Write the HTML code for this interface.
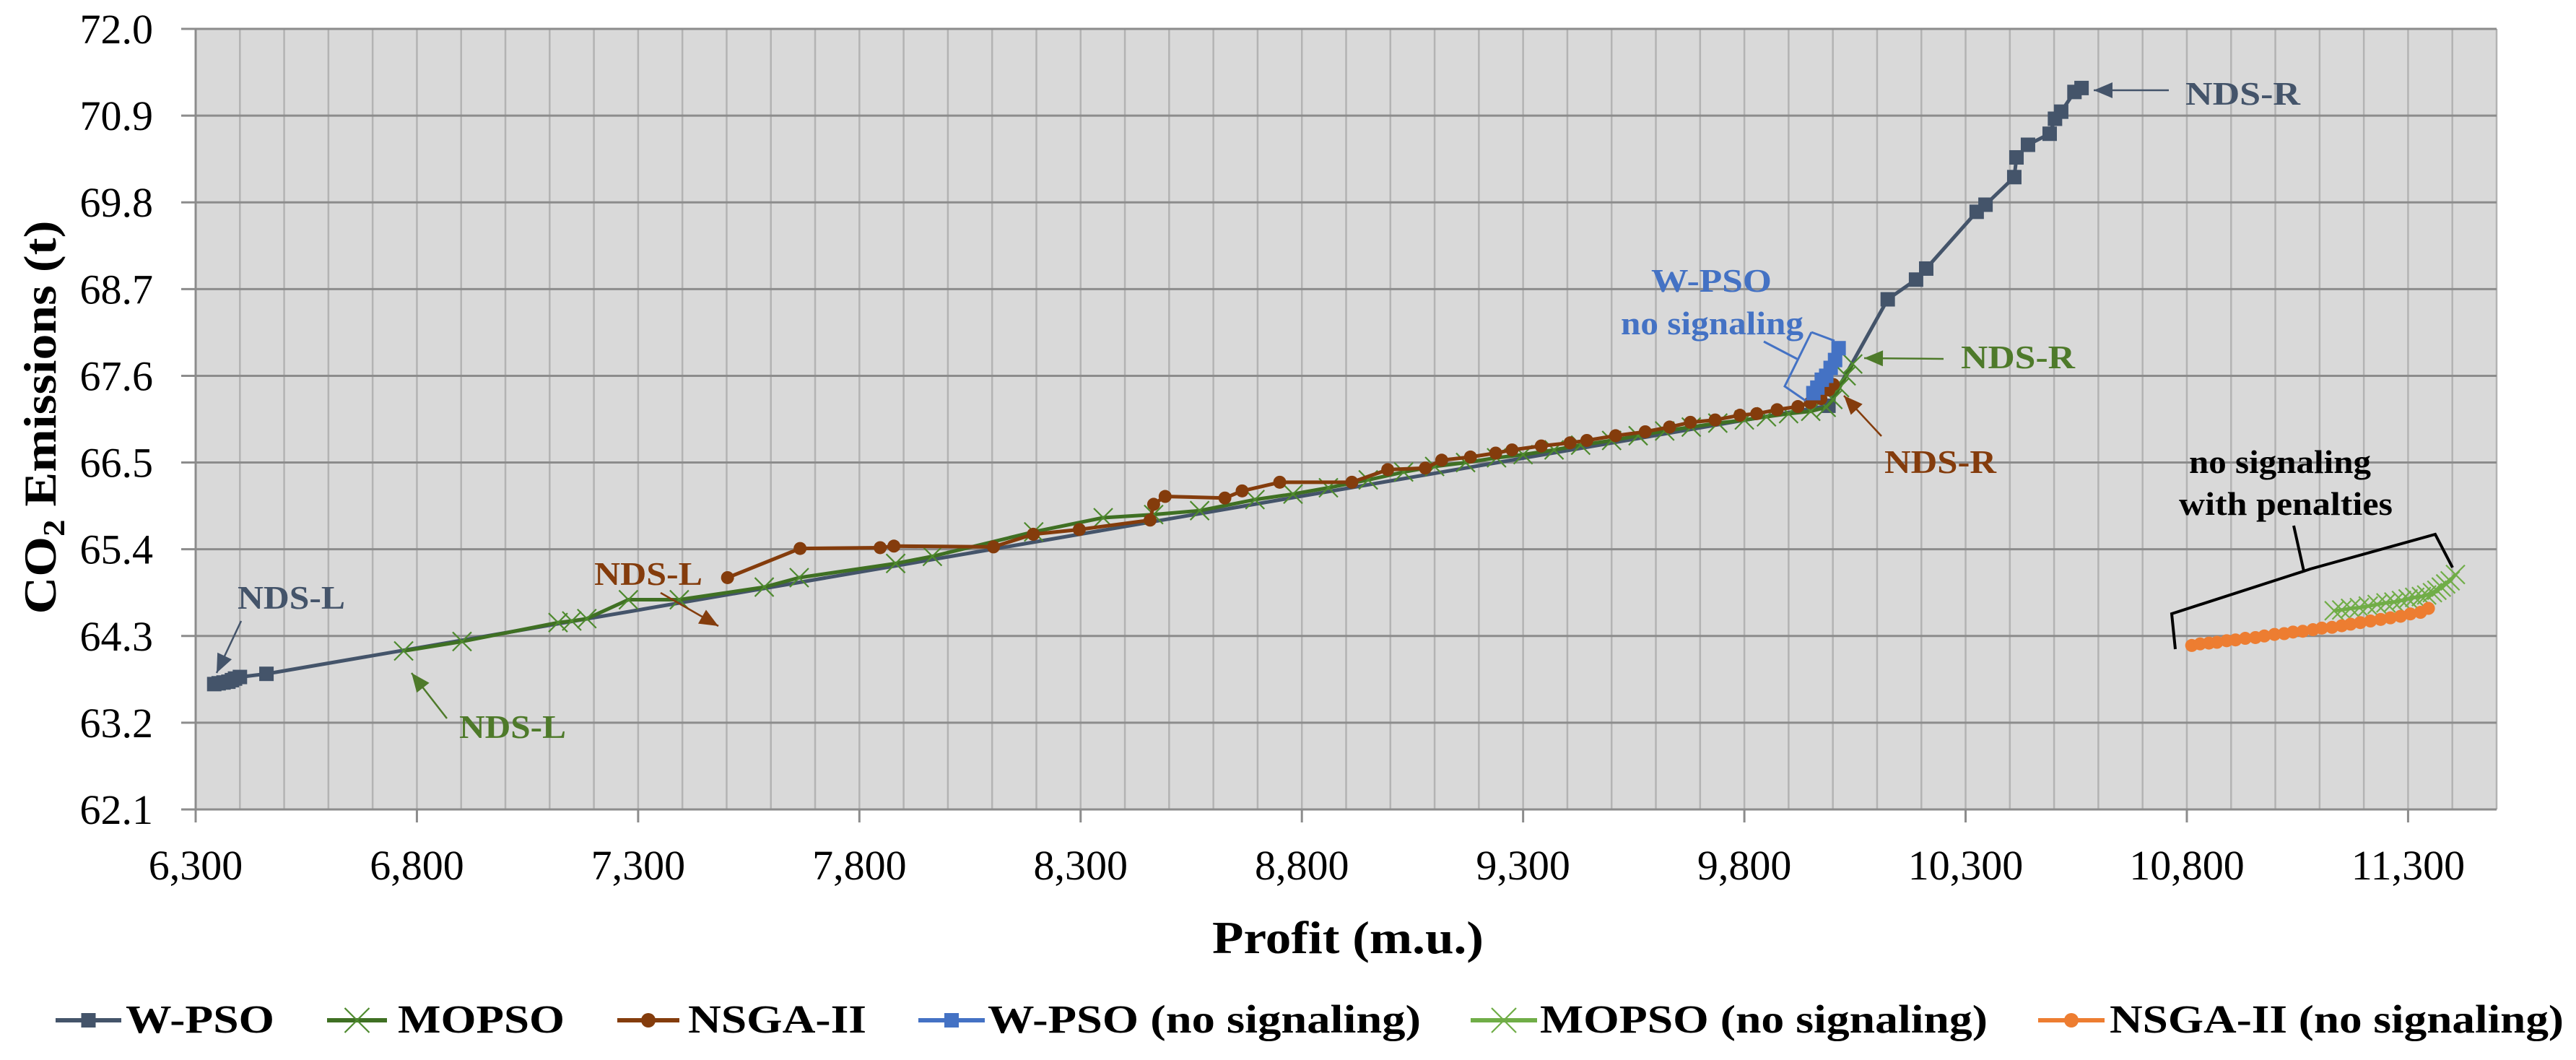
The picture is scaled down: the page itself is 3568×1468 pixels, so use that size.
<!DOCTYPE html>
<html><head><meta charset="utf-8"><style>
html,body{margin:0;padding:0;background:#fff}
svg{display:block}
svg, svg text{font-family:"Liberation Serif","Times New Roman",serif}
</style></head><body>
<svg id="chart" width="3568" height="1468" viewBox="0 0 3568 1468" xmlns="http://www.w3.org/2000/svg" font-family="'Liberation Serif', serif">
<rect x="0" y="0" width="3568" height="1468" fill="#fff"/>
<g id="plot"></g>
<g id="axes"></g>
<g id="series"></g>
<g id="annot"></g>
<g id="legend"></g>
</svg>
<script>
// ---- data ----
const xTicks = [6300, 6800, 7300, 7800, 8300, 8800, 9300, 9800, 10300, 10800, 11300];
const xTickLabels = ["6,300","6,800","7,300","7,800","8,300","8,800","9,300","9,800","10,300","10,800","11,300"];
const yTicks = [62.1, 63.2, 64.3, 65.4, 66.5, 67.6, 68.7, 69.8, 70.9, 72.0];
const yTickLabels = ["62.1","63.2","64.3","65.4","66.5","67.6","68.7","69.8","70.9","72.0"];

const wpsoX = [6342, 6352, 6363, 6374, 6382, 6389, 6400, 6460, 9990, 10124, 10188, 10211, 10325, 10345, 10410, 10415, 10441, 10490, 10502, 10516, 10546, 10562];
const wpsoY = [63.69, 63.70, 63.71, 63.72, 63.74, 63.76, 63.78, 63.82, 67.22, 68.57, 68.82, 68.96, 69.68, 69.77, 70.12, 70.37, 70.53, 70.67, 70.86, 70.95, 71.20, 71.25];

const mopsoX = [6770, 6902, 7119, 7150, 7184, 7278, 7393, 7585, 7664, 7882, 7965, 8194, 8351, 8465, 8569, 8694, 8780, 8860, 8950, 9030, 9100, 9170, 9240, 9300, 9370, 9430, 9500, 9560, 9620, 9680, 9740, 9800, 9850, 9900, 9950, 9985, 10000, 10015, 10030, 10045];
const mopsoY = [64.11, 64.23, 64.47, 64.49, 64.52, 64.76, 64.76, 64.92, 65.04, 65.22, 65.31, 65.62, 65.80, 65.84, 65.89, 66.03, 66.10, 66.18, 66.28, 66.38, 66.45, 66.50, 66.56, 66.60, 66.66, 66.72, 66.78, 66.84, 66.90, 66.95, 67.00, 67.04, 67.08, 67.12, 67.15, 67.20, 67.30, 67.45, 67.60, 67.75];

const nsgaX = [7502, 7666, 7847, 7878, 8103, 8193, 8297, 8457, 8465, 8491, 8626, 8665, 8750, 8913, 8994, 9079, 9116, 9181, 9238, 9275, 9341, 9406, 9444, 9509, 9576, 9631, 9678, 9734, 9790, 9828, 9874, 9921, 9949, 9973, 9991, 10001];
const nsgaY = [65.04, 65.41, 65.42, 65.44, 65.43, 65.59, 65.65, 65.77, 65.97, 66.07, 66.05, 66.14, 66.25, 66.25, 66.41, 66.43, 66.53, 66.57, 66.62, 66.66, 66.71, 66.75, 66.78, 66.84, 66.89, 66.95, 67.01, 67.04, 67.10, 67.12, 67.17, 67.21, 67.26, 67.31, 67.42, 67.49];

const wpsoNsX = [9956, 9965, 9975, 9985, 9995, 10005, 10013];
const wpsoNsY = [67.38, 67.45, 67.55, 67.60, 67.70, 67.80, 67.95];

const mopsoNsX = [11133, 11150, 11170, 11190, 11210, 11230, 11250, 11268, 11285, 11300, 11315, 11330, 11342, 11355, 11365, 11375, 11385, 11395, 11407];
const mopsoNsY = [64.62, 64.63, 64.65, 64.66, 64.68, 64.70, 64.72, 64.73, 64.75, 64.77, 64.79, 64.80, 64.82, 64.85, 64.88, 64.92, 64.96, 65.00, 65.08];

const nsgaNsX = [10811, 10830, 10850, 10868, 10890, 10910, 10932, 10955, 10975, 10998, 11020, 11040, 11062, 11085, 11105, 11128, 11150, 11170, 11192, 11215, 11238, 11260, 11283, 11305, 11328, 11346];
const nsgaNsY = [64.18, 64.20, 64.21, 64.22, 64.24, 64.25, 64.27, 64.28, 64.30, 64.32, 64.33, 64.35, 64.36, 64.38, 64.40, 64.41, 64.43, 64.45, 64.47, 64.49, 64.51, 64.53, 64.55, 64.58, 64.60, 64.65];

// ---- scales ----
const L = 271, R = 3458, T = 40, B = 1121;
const X0 = 6300, X1 = 11500, Y0 = 62.1, Y1 = 72.0;
function sx(v){ return L + (v - X0) / (X1 - X0) * (R - L); }
function sy(v){ return B - (v - Y0) / (Y1 - Y0) * (B - T); }

const NS = "http://www.w3.org/2000/svg";
const FONT = "'Liberation Serif', 'Times New Roman', serif";
function mk(tag, attrs, parent){
  const e = document.createElementNS(NS, tag);
  for (const k in attrs) e.setAttribute(k, attrs[k]);
  if (tag === 'text') e.setAttribute('font-family', FONT);
  parent.appendChild(e);
  return e;
}
const plot = document.getElementById('plot');
const axes = document.getElementById('axes');
const series = document.getElementById('series');
const annot = document.getElementById('annot');
const legend = document.getElementById('legend');

const bg = mk('rect', {x:L, y:T, width:R-L, height:B-T, fill:'#D9D9D9'}, plot);



for (let v = X0 + 100; v < X1 + 1; v += 100) {
  const g = mk('line', {x1:sx(v), x2:sx(v), y1:T, y2:B, stroke:'#B3B3B3', 'stroke-width':2.5}, plot);
  
  
}
yTicks.forEach(function(v){
  const g = mk('line', {x1:L, x2:R, y1:sy(v), y2:sy(v), stroke:'#8C8C8C', 'stroke-width':3}, plot);
  
  
});

const yAxis = mk('line', {x1:L, x2:L, y1:T, y2:B+18, stroke:'#8C8C8C', 'stroke-width':3}, axes);


yTicks.forEach(function(v, i){
  const tk = mk('line', {x1:L-20, x2:L, y1:sy(v), y2:sy(v), stroke:'#8C8C8C', 'stroke-width':3}, axes);
  
  
  const t = mk('text', {x:212, y:sy(v)+20, 'font-size':58, 'text-anchor':'end', fill:'#000'}, axes);
  t.textContent = yTickLabels[i];
  
  
});
xTicks.forEach(function(v, i){
  const tk = mk('line', {x1:sx(v), x2:sx(v), y1:B, y2:B+18, stroke:'#8C8C8C', 'stroke-width':3}, axes);
  
  
  const t = mk('text', {x:sx(v), y:1218, 'font-size':58, 'text-anchor':'middle', fill:'#000'}, axes);
  t.textContent = xTickLabels[i];
  
  
});

const xt = mk('text', {x:1867, y:1320, 'font-size':64, 'font-weight':'bold', 'text-anchor':'middle', fill:'#000', textLength:376, lengthAdjust:'spacingAndGlyphs'}, axes);
xt.textContent = 'Profit (m.u.)';


const yt = mk('text', {x:0, y:0, 'font-size':64, 'font-weight':'bold', 'text-anchor':'middle', fill:'#000', transform:'translate(77,578) rotate(-90)', textLength:545, lengthAdjust:'spacingAndGlyphs'}, axes);


yt.innerHTML = 'CO<tspan font-size="42" dy="12">2</tspan><tspan dy="-12"> Emissions (t)</tspan>';

function drawMarker(g, kind, cx, cy, color, size){
  let m;
  if (kind === 'square') {
    m = mk('rect', {x:cx-size/2, y:cy-size/2, width:size, height:size, fill:color}, g);
  } else if (kind === 'circle') {
    m = mk('circle', {cx:cx, cy:cy, r:size/2, fill:color}, g);
  } else {
    const h = size/2;
    m = mk('path', {d:'M'+(cx-h)+' '+(cy-h)+'L'+(cx+h)+' '+(cy+h)+'M'+(cx-h)+' '+(cy+h)+'L'+(cx+h)+' '+(cy-h), stroke:color, 'stroke-width':2.2, fill:'none'}, g);
  }
  return m;
}
function drawSeries(name, xs, ys, color, kind, size, lw, markerColor){
  const g = mk('g', {}, series);
  
  
  let d = '';
  for (let i = 0; i < xs.length; i++) d += (i ? 'L' : 'M') + sx(xs[i]).toFixed(1) + ' ' + sy(ys[i]).toFixed(1);
  const p = mk('path', {d:d, stroke:color, 'stroke-width':lw, fill:'none', 'stroke-linejoin':'round'}, g);
  
  
  for (let i = 0; i < xs.length; i++) {
    const m = drawMarker(g, kind, sx(xs[i]), sy(ys[i]), markerColor || color, size);
    
    
  }
}
drawSeries('wpso-series', wpsoX, wpsoY, '#44546A', 'square', 20, 5);
drawSeries('mopso-series', mopsoX, mopsoY, '#3F7023', 'x', 26, 5, '#4E8A2E');
drawSeries('nsga2-series', nsgaX, nsgaY, '#843C0C', 'circle', 18, 5);
drawSeries('wpso-no-signaling-series', wpsoNsX, wpsoNsY, '#4472C4', 'square', 20, 5);
drawSeries('mopso-no-signaling-series', mopsoNsX, mopsoNsY, '#70AD47', 'x', 26, 5);
drawSeries('nsga2-no-signaling-series', nsgaNsX, nsgaNsY, '#ED7D31', 'circle', 18, 5);

function label(name, txt, x, y, color, w){
  const t = mk('text', {x:x, y:y, 'font-size':46, 'font-weight':'bold', fill:color, textLength:w, lengthAdjust:'spacingAndGlyphs'}, annot);
  t.textContent = txt;
  
  
}
function arrow(name, x1, y1, x2, y2, color){
  const g = mk('g', {}, annot);
  
  
  mk('line', {x1:x1, y1:y1, x2:x2, y2:y2, stroke:color, 'stroke-width':2.5}, g);
  const a = Math.atan2(y2-y1, x2-x1), l = 26, w = 11;
  const bx = x2 - l*Math.cos(a), by = y2 - l*Math.sin(a);
  const px = -Math.sin(a)*w, py = Math.cos(a)*w;
  mk('path', {d:'M'+x2+' '+y2+'L'+(bx+px)+' '+(by+py)+'L'+(bx-px)+' '+(by-py)+'Z', fill:color}, g);
}
label('wpso-nds-l-label', 'NDS-L', 329, 843, '#44546A', 149);
arrow('wpso-nds-l-arrow', 334, 860, 300, 932, '#44546A');
label('mopso-nds-l-label', 'NDS-L', 636, 1022, '#4E7A2A', 148);
arrow('mopso-nds-l-arrow', 619, 995, 570, 932, '#4E7A2A');
label('nsga2-nds-l-label', 'NDS-L', 823, 810, '#843C0C', 150);
arrow('nsga2-nds-l-arrow', 915, 821, 995, 867, '#843C0C');
label('wpso-nds-r-label', 'NDS-R', 3027, 145, '#44546A', 159);
arrow('wpso-nds-r-arrow', 3004, 125, 2900, 125, '#44546A');
label('mopso-nds-r-label', 'NDS-R', 2716, 510, '#4E7A2A', 158);
arrow('mopso-nds-r-arrow', 2692, 497, 2582, 496, '#4E7A2A');
label('nsga2-nds-r-label', 'NDS-R', 2610, 655, '#843C0C', 155);
arrow('nsga2-nds-r-arrow', 2606, 604, 2554, 548, '#843C0C');
label('wpso-no-signaling-label-1', 'W-PSO', 2287, 404, '#4472C4', 167);
label('wpso-no-signaling-label-2', 'no signaling', 2245, 463, '#4472C4', 253);
label('penalties-label-1', 'no signaling', 3032, 655, '#000', 252);
label('penalties-label-2', 'with penalties', 3018, 713, '#000', 296);

const br1 = mk('path', {d:'M2443 473L2489 497M2509 460L2541 472M2509 460L2472 535L2501 555', stroke:'#4472C4', 'stroke-width':3, fill:'none'}, annot);


const br2 = mk('path', {d:'M3013 899L3008 850L3191 791L3177 728M3191 791L3200 788L3373 740L3397 786', stroke:'#000', 'stroke-width':4, fill:'none'}, annot);



const legNames = ['W-PSO','MOPSO','NSGA-II','W-PSO (no signaling)','MOPSO (no signaling)','NSGA-II (no signaling)'];
const legColors = ['#44546A','#3F7023','#843C0C','#4472C4','#70AD47','#ED7D31'];
const legKinds = ['square','x','circle','square','x','circle'];
const legLine = [[77,168],[453,536],[855,941],[1272,1364],[2037,2129],[2823,2915]];
const legText = [[174,206],[551,231],[953,247],[1368,600],[2133,620],[2922,629]];
const LY = 1413;
for (let i = 0; i < legNames.length; i++) {
  const g = mk('g', {}, legend);
  
  
  mk('line', {x1:legLine[i][0], x2:legLine[i][1], y1:LY, y2:LY, stroke:legColors[i], 'stroke-width':6}, g);
  drawMarker(g, legKinds[i], (legLine[i][0]+legLine[i][1])/2, LY, legKinds[i]==='x' ? (i===1?'#4E8A2E':'#70AD47') : legColors[i], legKinds[i]==='x'?34:20);
  const t = mk('text', {x:legText[i][0], y:1430, 'font-size':55, 'font-weight':'bold', fill:'#000', textLength:legText[i][1], lengthAdjust:'spacingAndGlyphs'}, g);
  t.textContent = legNames[i];
}
</script>
</body></html>
